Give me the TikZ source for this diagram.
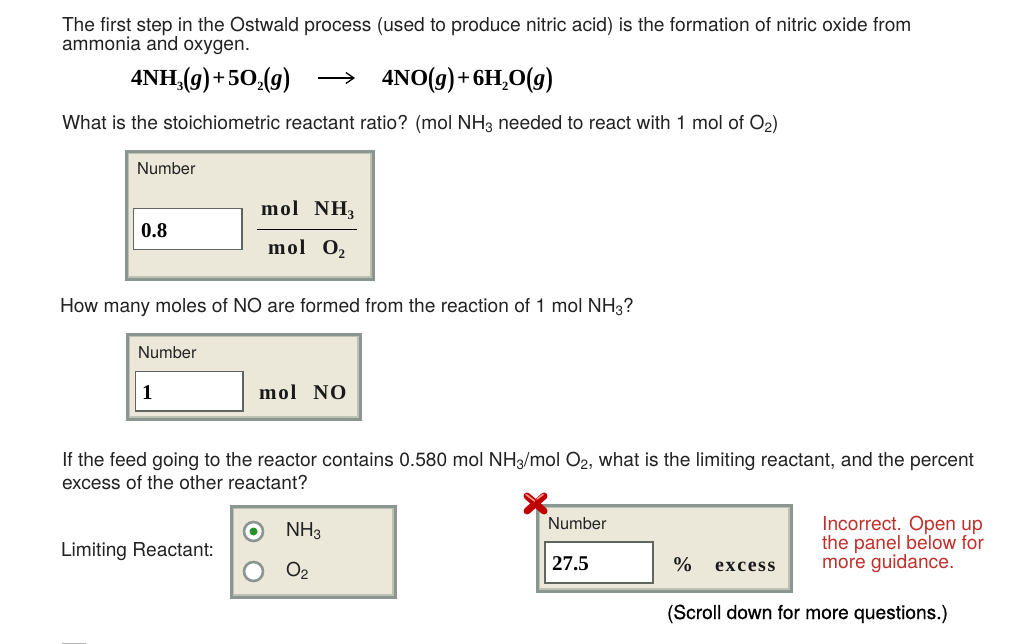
\documentclass[tikz,border=0pt]{standalone}
\usepackage{fontspec}
\usetikzlibrary{arrows.meta}
\setmainfont{TeX Gyre Heros}
\newfontfamily\tms{Liberation Serif}
\newfontfamily\tmsls[LetterSpace=8]{Liberation Serif}
\definecolor{panelbg}{HTML}{EBE8DA}
\definecolor{panelout}{HTML}{8C9690}
\definecolor{panelin}{HTML}{BDC0B4}
\definecolor{inputline}{HTML}{5F6660}
\definecolor{errred}{HTML}{C0302B}
\definecolor{txt}{HTML}{222222}
\newcommand{\sbs}[1]{\raisebox{-3.5pt}{\fontsize{13.5}{13.5}\selectfont #1}}
\newcommand{\eqs}[1]{\raisebox{-5pt}{\fontsize{12.5}{12.5}\selectfont\tms\bfseries #1}}
\newcommand{\ust}[1]{\raisebox{-5pt}{\fontsize{13}{13}\selectfont\tms\bfseries #1}}
\newcommand{\thinp}[1]{\raisebox{-2pt}{\scalebox{.75}[1.05]{\fontsize{28}{28}\selectfont\tms #1}}}
\newcommand{\pars}[1]{\thinp{(}\kern0.5pt{\bfseries\itshape #1}\kern0.5pt\thinp{)}}
\tikzset{
 x=1pt,y=-1pt,
 body/.style={anchor=base west,inner sep=0pt,outer sep=0pt,text=txt,font=\fontsize{19.2}{19.2}\selectfont},
 small/.style={anchor=base west,inner sep=0pt,text=txt,font=\fontsize{16.4}{16.4}\selectfont},
 unit/.style={anchor=base west,inner sep=0pt,text=black!90,font=\fontsize{21}{21}\selectfont\tmsls\bfseries},
 val/.style={anchor=base west,inner sep=0pt,text=black,font=\fontsize{21}{21}\selectfont\tms\bfseries},
 eqn/.style={anchor=base west,inner sep=0pt,text=black,font=\fontsize{23}{23}\selectfont\tms\bfseries},
 warn/.style={anchor=base west,inner sep=0pt,text=errred,font=\fontsize{19.2}{19.2}\selectfont},
 panel/.style={draw=panelout,line width=3pt,fill=panelbg},
 panelinner/.style={draw=panelin,line width=1.2pt},
 inputbox/.style={draw=inputline,line width=1.2pt,fill=white},
 radio/.style={circle,draw=panelout,line width=2.6pt,minimum size=19pt,inner sep=0pt,fill=white},
}
\begin{document}
\begin{tikzpicture}
\useasboundingbox (0,0) rectangle (1024,644);
\fill[white] (0,0) rectangle (1024,644);
\node[body] (l1) at (62,31.5) {The first step in the Ostwald process (used to produce nitric acid) is the formation of nitric oxide from};
\node[body] (l2) at (62,50.5) {ammonia and oxygen.};
\node[eqn] (eqL) at (131,86) {4NH\eqs{3}\pars{g}\kern2.5pt+\kern2.5pt5O\eqs{2}\pars{g}};
\node[eqn] (eqR) at (382,86) {4NO\pars{g}\kern2.5pt+\kern2.5pt6H\eqs{2}O\pars{g}};
\coordinate (aS) at (318,78);
\coordinate (aE) at (355,78);
\draw[line width=1.3pt,-{Straight Barb[length=8pt,width=11pt]}] (aS) -- (aE);
\node[body] (q1) at (62,129.5) {What is the stoichiometric reactant ratio? (mol NH\sbs{3} needed to react with 1 mol of O\sbs{2})};

\draw[panel] (126.5,151.5) rectangle (373,279);
\draw[panelinner] (128.6,153.6) rectangle (370.9,276.9);
\node[small] (n1) at (137,175) {Number};
\draw[inputbox] (133.5,208.5) rectangle (242,249.5);
\node[val] (v1) at (141,237) {0.8};
\node[unit] (u1) at (261,215) {mol\hspace{16pt}NH\ust{3}};
\draw[line width=0.9pt] (257,229.5) -- (357,229.5);
\node[unit] (u2) at (268,254) {mol\hspace{17pt}O\ust{2}};

\node[body] (q2) at (60,312) {How many moles of NO are formed from the reaction of 1 mol NH\sbs{3}?};
\draw[panel] (127.5,334.5) rectangle (360,419);
\draw[panelinner] (129.6,336.6) rectangle (357.9,416.9);
\node[small] (n2) at (138,358) {Number};
\draw[inputbox] (135.5,371.5) rectangle (243,411);
\node[val] (v2) at (142,399) {1};
\node[unit] (u3) at (259,399) {mol\hspace{17pt}NO};

\node[body] (q3a) at (62,466) {If the feed going to the reactor contains 0.580 mol NH\sbs{3}/mol O\sbs{2}, what is the limiting reactant, and the percent};
\node[body] (q3b) at (62,489.5) {excess of the other reactant?};

\node[body] (lim) at (61,556.5) {Limiting Reactant:};
\draw[panel] (231.5,506.5) rectangle (395,597);
\draw[panelinner] (233.6,508.6) rectangle (392.9,594.9);
\node[radio] (r1) at (253.5,531.5) {};
\node[circle,fill=green!50!black!85,minimum size=8pt,inner sep=0pt] (r1dot) at (r1.center) {};
\node[radio] (r2) at (253.5,571.5) {};
\node[body] (nh) at (286,536) {NH\sbs{3}};
\node[body] (oo) at (286,576) {O\sbs{2}};

\draw[panel] (537.5,505.5) rectangle (791,591);
\draw[panelinner] (539.6,507.6) rectangle (788.9,588.9);
\draw[line width=7pt,draw=red!75!black,line cap=round] (527,496) -- (544,511);
\draw[line width=7pt,draw=red!75!black,line cap=round] (544,496) -- (527,511);
\draw[line width=1.6pt,draw=white!60!red,line cap=round] (526,494.5) -- (534.5,501);
\draw[line width=1.6pt,draw=white!60!red,line cap=round] (543,494.5) -- (537,499);
\node[small] (n4) at (548,529) {Number};
\draw[inputbox] (545,542) rectangle (653,583);
\node[val] (v4) at (552,570) {27.5};
\node[unit] (u4) at (672,571) {\%};
\node[unit,font=\fontsize{20}{20}\selectfont\tmsls\bfseries] (u5) at (715,571) {excess};

\node[warn] (w1) at (822,530) {Incorrect. Open up};
\node[warn] (w2) at (822,549) {the panel below for};
\node[warn] (w3) at (822,568) {more guidance.};
\node[body,text=black] (sc) at (667,619) {\addfontfeature{FakeBold=0.4}(Scroll down for more questions.)};
\fill[black!30] (62,643) rectangle (86,644);
\end{tikzpicture}
\end{document}
